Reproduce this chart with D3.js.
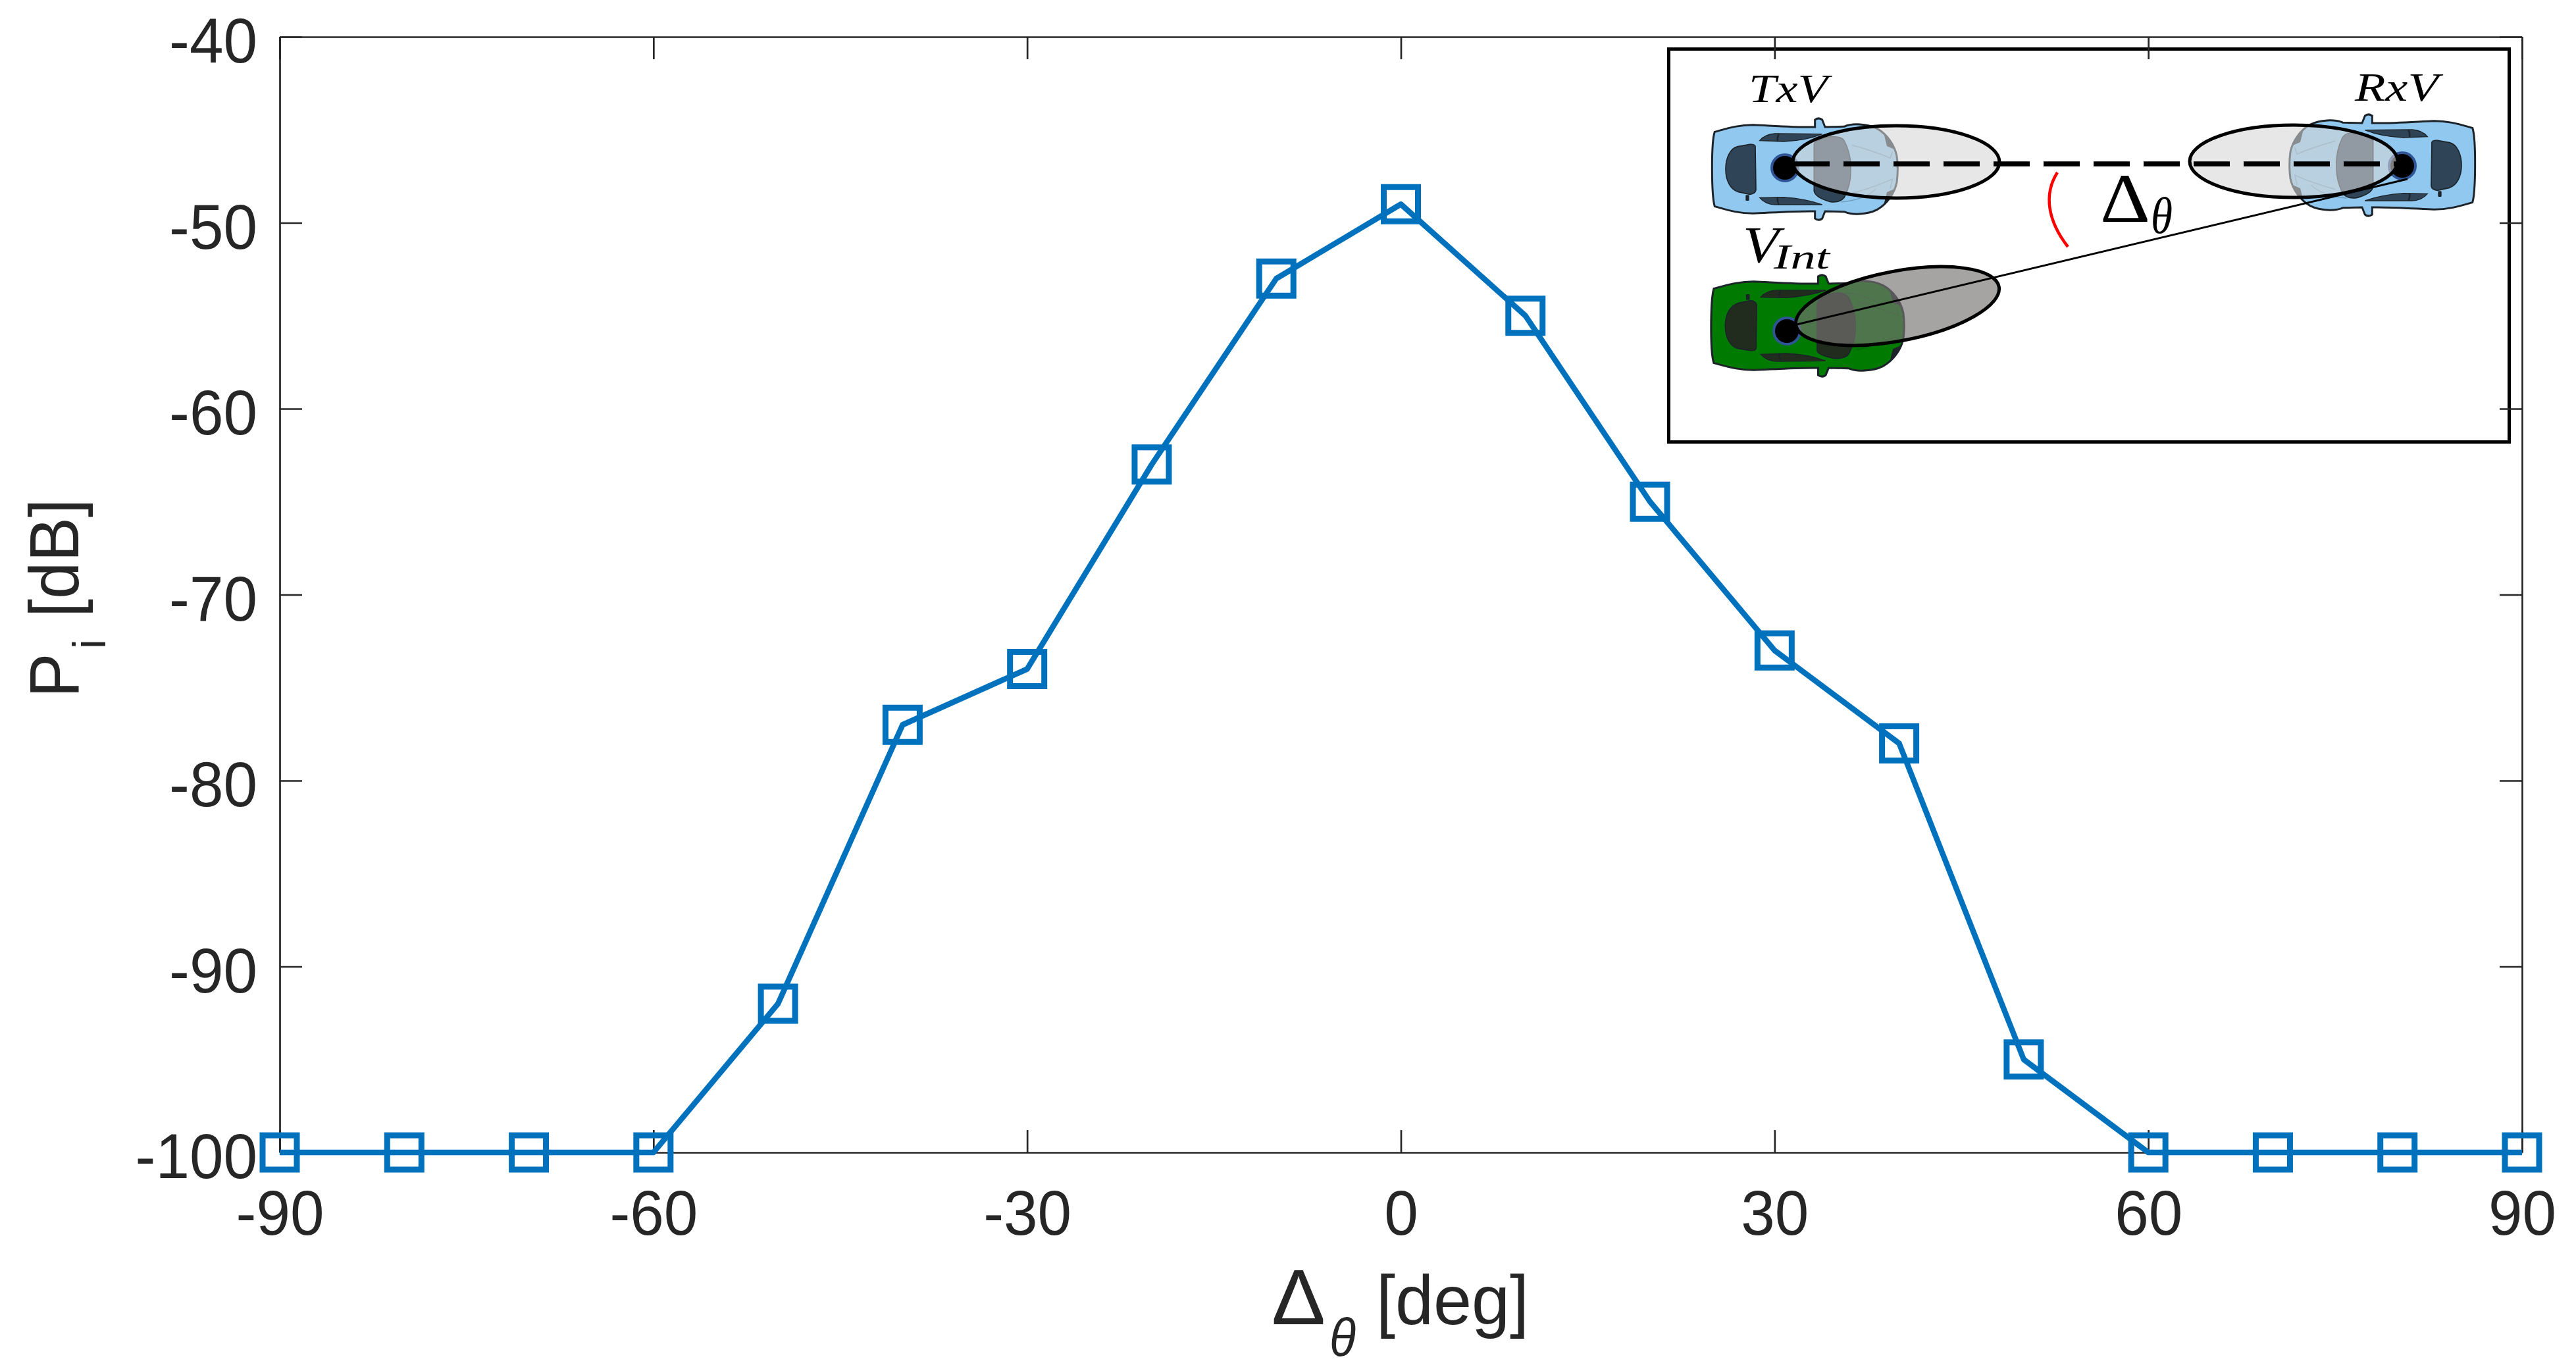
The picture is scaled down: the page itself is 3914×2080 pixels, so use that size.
<!DOCTYPE html>
<html>
<head>
<meta charset="utf-8">
<script src="https://cdn.jsdelivr.net/npm/d3@7"></script>
<style>
  html, body { margin: 0; padding: 0; background: #fff; }
  svg { display: block; }
  text { font-family: "Liberation Sans", Arial, sans-serif; fill: #262626; }
  .math { font-family: "Liberation Serif", serif; fill: #000; }
</style>
</head>
<body>
<svg id="chart" width="3914" height="2080"></svg>
<script>
// values
const deltaTheta = [-90, -80, -70, -60, -50, -40, -30, -20, -10, 0, 10, 20, 30, 40, 50, 60, 70, 80, 90];
const powerDb = [-100, -100, -100, -100, -92, -77, -74, -63, -53, -49, -55, -65, -73, -78, -95, -100, -100, -100, -100];
const xTicks = [-90, -60, -30, 0, 30, 60, 90];
const yTicks = [-100, -90, -80, -70, -60, -50, -40];

const left = 425, right = 3832, top_ = 56, bottom = 1751;
const ink = '#262626';
const lineBlue = '#0072BD';
const squeeze = 0.955; // the original text is a bit narrow for its height

const svg = d3.select('#chart');
const x = d3.scaleLinear().domain([-90, 90]).range([left, right]);
const y = d3.scaleLinear().domain([-100, -40]).range([bottom, top_]);

function narrow (sel) {
  sel.each(function () {
    d3.select(this)
      .attr('textLength', this.getComputedTextLength() * squeeze)
      .attr('lengthAdjust', 'spacingAndGlyphs');
  });
}

// ---- inset sketch, sits under the axes since the ticks show through it
const inset = svg.append('g');
inset.append('rect')
  .attr('x', 2535.5).attr('y', 74.5).attr('width', 1277).attr('height', 597)
  .attr('fill', '#fff').attr('stroke', '#000').attr('stroke-width', 5);

// car drawn facing right, in units 3x the page, centred on (485, 500)
function drawCar (cx, cy, sx, sy, body, glass, widen) {
  const g = inset.append('g')
    .attr('transform', `translate(${cx},${cy}) scale(${sx * widen},${sy}) translate(-485,-500)`);
  g.append('path')
    .attr('d', 'M165,330 C220,315 270,298 340,298 C430,302 540,310 622,308 L622,275 Q640,262 655,275 L668,308 ' +
      'L755,306 C790,290 860,292 905,315 C950,340 985,390 995,440 Q1003,500 995,560 C985,610 950,660 905,685 ' +
      'C860,708 790,710 755,694 L668,692 L655,725 Q640,738 622,725 L622,692 C540,690 430,698 340,702 ' +
      'C270,702 220,685 165,670 C150,620 148,380 165,330 Z')
    .attr('fill', body).attr('stroke', '#1c2329').attr('stroke-width', 9);
  // rear window
  g.append('path')
    .attr('d', 'M350,395 Q345,385 325,387 L270,397 C235,405 215,450 215,500 C215,550 235,590 270,603 L325,615 Q350,612 353,595 Z')
    .attr('fill', glass).attr('stroke', '#1c2329').attr('stroke-width', 5);
  // windscreen
  g.append('path')
    .attr('d', 'M618,385 Q625,365 690,352 Q740,348 755,370 Q787,430 785,500 Q787,570 755,630 Q735,655 690,648 Q625,630 618,600 Z')
    .attr('fill', glass).attr('stroke', '#1c2329').attr('stroke-width', 5);
  // side windows
  g.append('path')
    .attr('d', 'M370,370 Q395,340 440,338 L655,340 Q580,370 480,374 Z')
    .attr('fill', glass).attr('stroke', '#1c2329').attr('stroke-width', 4);
  g.append('path')
    .attr('d', 'M370,630 Q395,660 440,662 L655,662 Q580,635 480,628 Z')
    .attr('fill', glass).attr('stroke', '#1c2329').attr('stroke-width', 4);
  g.append('path').attr('d', 'M458,338 Q448,355 452,374 M458,662 Q448,645 452,628')
    .attr('fill', 'none').attr('stroke', '#1c2329').attr('stroke-width', 7);
  g.append('rect').attr('x', 306).attr('y', 618).attr('width', 16).attr('height', 26).attr('rx', 4)
    .attr('fill', '#1c2329');
  // bonnet creases and bumper
  g.append('path')
    .attr('d', 'M790,390 Q900,420 965,450 L975,420 M790,610 Q900,580 975,545 L965,590 M740,650 Q850,640 900,590')
    .attr('fill', 'none').attr('stroke', '#1c2329').attr('stroke-opacity', 0.25).attr('stroke-width', 5);
  g.append('path').attr('d', 'M935,335 Q975,370 985,410 L950,395 Z M935,665 Q975,630 985,590 L950,605 Z')
    .attr('fill', '#1c2329');
}

function drawAntenna (cx, cy) {
  inset.append('circle').attr('cx', cx).attr('cy', cy).attr('r', 20)
    .attr('fill', '#000').attr('stroke', '#2f5597').attr('stroke-width', 4);
}

function drawBeam (cx, cy, rx, ry, angle, fill, alpha) {
  inset.append('ellipse')
    .attr('cx', cx).attr('cy', cy).attr('rx', rx).attr('ry', ry)
    .attr('transform', `rotate(${angle},${cx},${cy})`)
    .attr('fill', fill).attr('fill-opacity', alpha)
    .attr('stroke', '#000').attr('stroke-width', 5);
}

drawCar(2712, 257, 1 / 3, 1 / 3, '#90c8f0', '#2f4557', 1);
drawAntenna(2712, 255);
drawCar(3650, 251, -1 / 3, 1 / 3, '#90c8f0', '#2f4557', 1);
drawAntenna(3650, 252);
drawCar(2715, 495, 1 / 3, -1 / 3, '#007a00', '#212c1f', 1.04);
drawAntenna(2715, 503);

drawBeam(2881, 246, 157, 55, 0, '#d6d6d6', 0.59);
drawBeam(3485, 245, 158, 55, 0, '#d6d6d6', 0.59);
drawBeam(2883, 465, 157, 53, -10.8, '#787474', 0.66);

// line of sight, dashed, and the interferer ray
inset.append('line')
  .attr('x1', 2725).attr('y1', 249).attr('x2', 3643).attr('y2', 249)
  .attr('stroke', '#000').attr('stroke-width', 7.5).attr('stroke-dasharray', '55 21');
inset.append('line')
  .attr('x1', 2730).attr('y1', 493).attr('x2', 3658).attr('y2', 272)
  .attr('stroke', '#000').attr('stroke-width', 3);
inset.append('path')
  .attr('d', 'M3126,262 C3105,295 3111,335 3142,375')
  .attr('fill', 'none').attr('stroke', '#f00').attr('stroke-width', 4.5);

function mathText (px, py, size, str, wide, upright) {
  const t = inset.append('text').attr('class', 'math')
    .attr('x', px).attr('y', py)
    .attr('font-size', size)
    .attr('font-style', upright ? 'normal' : 'italic')
    .text(str);
  if (wide) t.attr('textLength', wide).attr('lengthAdjust', 'spacingAndGlyphs');
}
mathText(2657, 155, 62, 'TxV', 120);
mathText(3578, 153, 62, 'RxV', 127);
mathText(2648, 398, 78, 'V', 55);
mathText(2695, 408, 53, 'Int', 85);
mathText(3191, 337, 106, 'Δ', 76, true);
mathText(3268, 354, 78, 'θ', 33);

// ---- axes, ticks point inward on all four sides
const tickLen = 34;
const fmt = d => String(d);

function styleAxis (g) {
  g.selectAll('path').attr('stroke', ink).attr('stroke-width', 2.7);
  g.selectAll('line').attr('stroke', ink).attr('stroke-width', 2.7);
  g.selectAll('text').attr('font-size', 97).attr('font-family', '"Liberation Sans", Arial, sans-serif').attr('fill', ink);
  g.selectAll('text').call(narrow);
}

svg.append('g').attr('transform', `translate(0,${bottom})`)
  .call(d3.axisBottom(x).tickValues(xTicks).tickFormat(fmt).tickSizeInner(-tickLen).tickSizeOuter(0).tickPadding(56))
  .call(styleAxis);
svg.append('g').attr('transform', `translate(0,${top_})`)
  .call(d3.axisTop(x).tickValues(xTicks).tickFormat('').tickSizeInner(-tickLen).tickSizeOuter(0))
  .call(styleAxis);
svg.append('g').attr('transform', `translate(${left},0)`)
  .call(d3.axisLeft(y).tickValues(yTicks).tickFormat(fmt).tickSizeInner(-tickLen).tickSizeOuter(0).tickPadding(34))
  .call(styleAxis)
  .call(g => g.selectAll('text').attr('dy', '0.4em'));
svg.append('g').attr('transform', `translate(${right},0)`)
  .call(d3.axisRight(y).tickValues(yTicks).tickFormat('').tickSizeInner(-tickLen).tickSizeOuter(0))
  .call(styleAxis);

// ---- axis titles
const titleSerif = '"Liberation Serif", serif';
svg.append('text').attr('x', 1932).attr('y', 2012).attr('font-family', titleSerif)
  .attr('font-size', 118).attr('textLength', 82).attr('lengthAdjust', 'spacingAndGlyphs').text('Δ');
svg.append('text').attr('x', 2020).attr('y', 2060).attr('font-family', titleSerif).attr('font-style', 'italic')
  .attr('font-size', 82).attr('textLength', 40).attr('lengthAdjust', 'spacingAndGlyphs').text('θ');
svg.append('text').attr('x', 2091).attr('y', 2012).attr('font-size', 106)
  .attr('textLength', 232).attr('lengthAdjust', 'spacingAndGlyphs').text('[deg]');

function yTitlePart (px, py, size, str) {
  svg.append('text').attr('transform', `translate(${px},${py}) rotate(-90)`)
    .attr('font-size', size).text(str).call(narrow);
}
yTitlePart(119, 1060, 106, 'P');
yTitlePart(160, 986, 70, 'i');
yTitlePart(119, 938, 106, '[dB]');

// ---- the curve
const line = d3.line().x((d, i) => x(deltaTheta[i])).y(d => y(d));
svg.append('path').datum(powerDb)
  .attr('d', line)
  .attr('fill', 'none').attr('stroke', lineBlue).attr('stroke-width', 8.5).attr('stroke-linejoin', 'round');

const markerSize = 52;
svg.append('g').selectAll('rect').data(powerDb).join('rect')
  .attr('x', (d, i) => x(deltaTheta[i]) - markerSize / 2)
  .attr('y', d => y(d) - markerSize / 2)
  .attr('width', markerSize).attr('height', markerSize)
  .attr('fill', 'none').attr('stroke', lineBlue).attr('stroke-width', 9);
</script>
</body>
</html>
